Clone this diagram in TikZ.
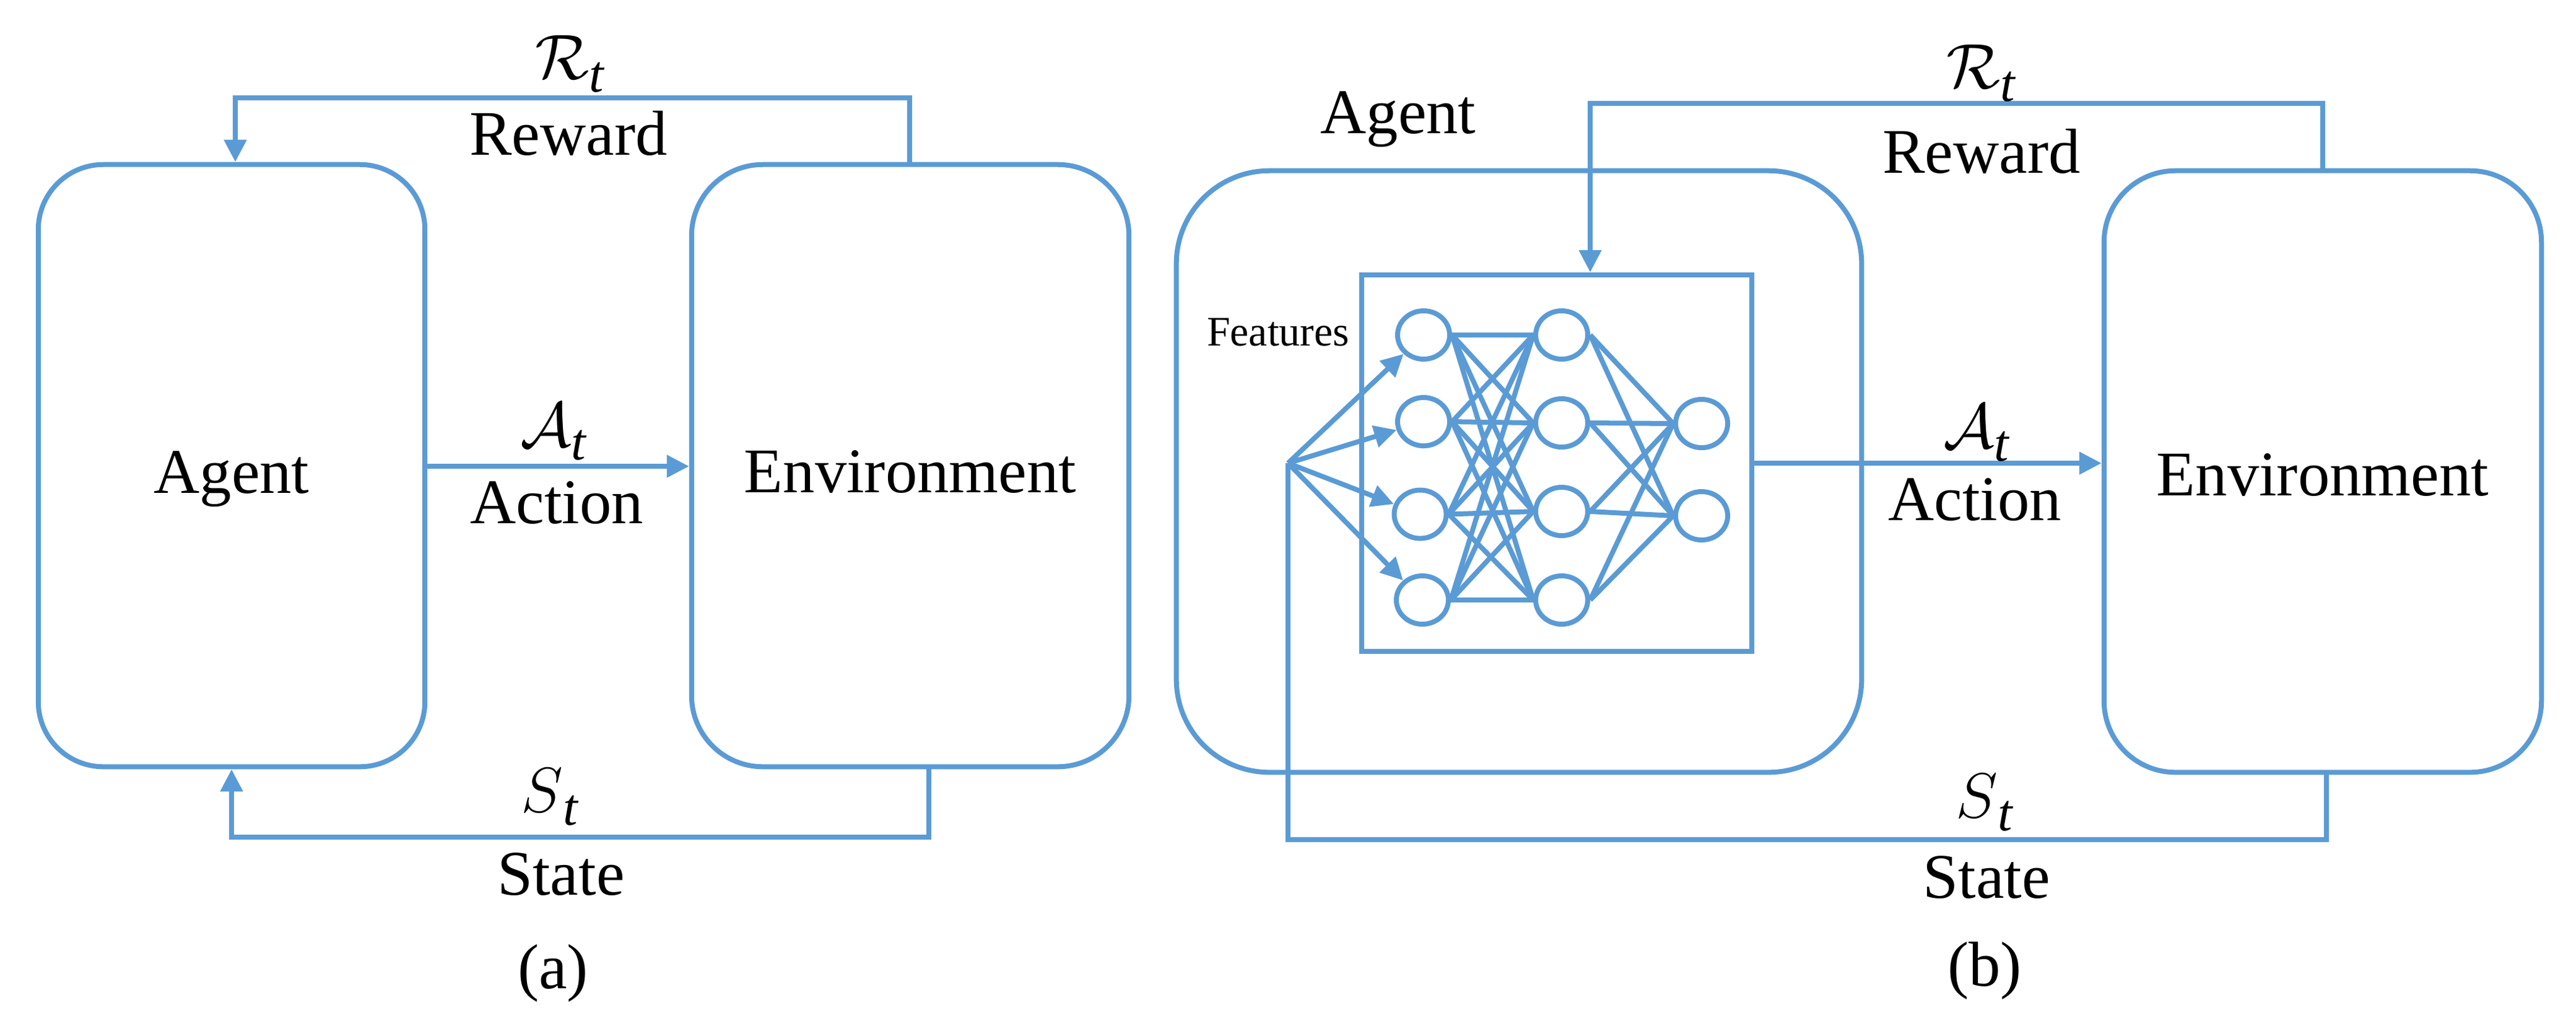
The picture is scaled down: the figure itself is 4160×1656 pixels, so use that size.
\documentclass[tikz,border=0pt]{standalone}
\usepackage{fix-cm}
\usepackage{fontspec}
\setmainfont{Liberation Serif}
\usetikzlibrary{arrows.meta,shapes.geometric}
\definecolor{lineblue}{HTML}{5B9BD5}
\newcommand{\subt}{\raisebox{-6pt}{\fontsize{24}{24}\selectfont\textit{t}}}
\tikzset{
  box/.style={draw=lineblue,line width=0.08cm,inner sep=0pt,rectangle},
  neuron/.style={draw=lineblue,line width=0.08cm,ellipse,inner sep=0pt,minimum width=0.84cm,minimum height=0.78cm},
  wire/.style={draw=lineblue,line width=0.08cm},
  arrowwire/.style={wire,-{Triangle[length=0.36cm,width=0.35cm]},color=lineblue},
  lab/.style={inner sep=0pt,font=\fontsize{29.2}{35}\selectfont},
  smalllab/.style={inner sep=0pt,font=\fontsize{19.3}{23}\selectfont}
}
\begin{document}
\begin{tikzpicture}[x=0.01cm,y=-0.01cm]
\useasboundingbox (0,0) rectangle (4160,1656);
% (a)
\node[box,rounded corners=1.05cm,minimum width=6.24cm,minimum height=9.72cm] (agentA) at (374,752) {};
\node[box,rounded corners=1.15cm,minimum width=7.06cm,minimum height=9.72cm] (envA) at (1470,752) {};
\coordinate (rAa) at (380,158);
\coordinate (rAb) at (1469,158);
\coordinate (sAa) at (374,1352);
\coordinate (sAb) at (1500,1352);
\draw[arrowwire] (rAb |- envA.north) -- (rAb) -- (rAa) -- (rAa |- agentA.north);
\draw[arrowwire] (sAb |- envA.south) -- (sAb) -- (sAa) -- (sAa |- agentA.south);
\draw[arrowwire] (agentA.east |- 0,753) -- (envA.west |- 0,753);
\node[lab] (tAgentA) at (374,774) {Agent};
\node[lab] (tEnvA) at (1470,762) {Environment};
\node[lab] (tRsymA) at (921,103) {$\mathcal{R}$\subt};
\node[lab] (tRewA) at (918,215) {Reward};
\node[lab] (tAsymA) at (894,697) {$\mathcal{A}$\subt};
\node[lab] (tActA) at (899,812) {Action};
\node[lab] (tSsymA) at (888,1287) {$S$\subt};
\node[lab] (tStateA) at (906,1412) {State};
\node[lab] (capA) at (893,1572) {(a)};
% (b)
\node[box,rounded corners=1.5cm,minimum width=11.06cm,minimum height=9.71cm] (agentB) at (2453,761.5) {};
\node[box,rounded corners=1.15cm,minimum width=7.06cm,minimum height=9.71cm] (envB) at (3751,761.5) {};
\node[box,minimum width=6.3cm,minimum height=6.08cm] (net) at (2514,748) {};
\node[neuron] (a1) at (2299,541) {};
\node[neuron] (a2) at (2299,681) {};
\node[neuron] (a3) at (2293.5,830.5) {};
\node[neuron] (a4) at (2297,969) {};
\node[neuron] (b1) at (2522,541) {};
\node[neuron] (b2) at (2522,683) {};
\node[neuron] (b3) at (2522,826) {};
\node[neuron] (b4) at (2522,969) {};
\node[neuron] (c1) at (2748,684) {};
\node[neuron] (c2) at (2748,833) {};
\foreach \i in {1,2,3,4}{
  \foreach \j in {1,2,3,4}{\draw[wire] (a\i.east) -- (b\j.west);}
  \foreach \j in {1,2}{\draw[wire] (b\i.east) -- (c\j.west);}
}
\coordinate (inp) at (2080,748);
\foreach \i in {1,2,3,4}{\draw[arrowwire] (inp) -- (a\i);}
\coordinate (rBa) at (2568,167);
\coordinate (rBb) at (3751,167);
\coordinate (sBa) at (2080,1356);
\coordinate (sBb) at (3757,1356);
\draw[arrowwire] (rBb |- envB.north) -- (rBb) -- (rBa) -- (rBa |- net.north);
\draw[wire] (sBb |- envB.south) -- (sBb) -- (sBa) -- (inp);
\draw[arrowwire] (net.east |- 0,748) -- (envB.west |- 0,748);
\node[lab] (tAgentB) at (2258,193) {Agent};
\node[lab] (tEnvB) at (3751,767) {Environment};
\node[smalllab] (tFeat) at (2064,537) {Features};
\node[lab] (tRsymB) at (3200,118) {$\mathcal{R}$\subt};
\node[lab] (tRewB) at (3200,244) {Reward};
\node[lab] (tAsymB) at (3192,699) {$\mathcal{A}$\subt};
\node[lab] (tActB) at (3189,807) {Action};
\node[lab] (tSsymB) at (3205,1296) {$S$\subt};
\node[lab] (tStateB) at (3208,1417) {State};
\node[lab] (capB) at (3205,1568) {(b)};
\end{tikzpicture}
\end{document}
